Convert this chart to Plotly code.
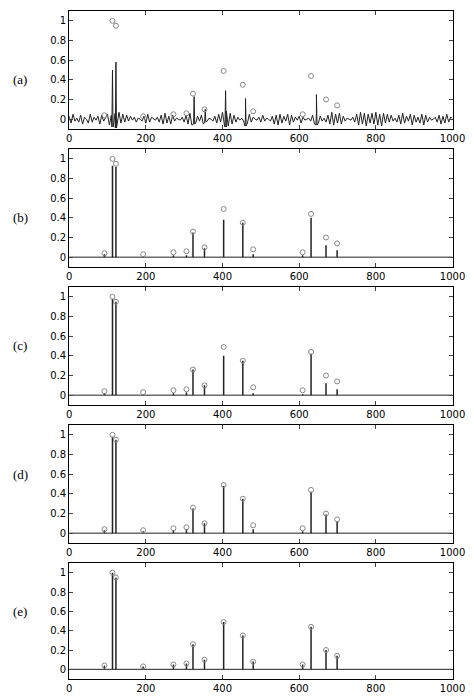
import plotly.graph_objects as go

# true spikes (circles)
true_pos = [92,113,122,193,272,306,323,353,403,453,480,609,631,670,699]
true_amp = [0.04,1.0,0.95,0.03,0.05,0.06,0.26,0.10,0.49,0.35,0.08,0.05,0.44,0.20,0.14]

# panel (a): noisy signal, sampled every 5 units
noise_a = [0.03,-0.04,0.05,-0.02,0.01,-0.03,0.04,-0.05,0.02,0.00,-0.04,0.05,-0.03,0.02,-0.01,0.03,-0.05,0.04,-0.02,0.01,
           0.05,-0.06,0.04,-0.07,0.06,-0.05,0.07,-0.04,0.05,-0.03,0.04,-0.02,0.03,-0.01,0.02,-0.03,0.01,0.00,-0.02,0.03,
           -0.04,0.05,-0.03,0.02,0.00,-0.01,0.02,-0.03,0.04,-0.05,0.06,-0.04,0.03,-0.05,0.04,-0.02,0.01,0.00,-0.01,0.02,
           -0.03,0.04,-0.05,0.06,-0.06,0.05,-0.04,0.03,-0.02,0.04,-0.05,0.03,-0.02,0.01,0.00,-0.02,0.03,-0.04,0.05,-0.03,
           0.07,-0.06,0.08,-0.07,0.06,-0.05,0.04,-0.03,0.02,-0.01,0.01,-0.02,0.03,-0.04,0.05,-0.03,0.02,0.00,-0.01,0.02,
           -0.03,0.04,-0.02,0.01,0.00,-0.02,0.03,-0.05,0.04,-0.06,0.05,-0.04,0.03,-0.02,0.05,-0.06,0.04,-0.03,0.02,-0.01,
           0.03,-0.04,0.02,-0.01,0.00,0.01,-0.02,0.04,-0.05,0.06,-0.04,0.03,-0.02,0.01,-0.03,0.04,-0.05,0.07,-0.06,0.05,
           -0.04,0.06,-0.05,0.03,-0.02,0.01,0.00,-0.01,0.02,-0.03,0.05,-0.06,0.07,-0.05,0.06,-0.07,0.05,-0.04,0.06,-0.05,
           0.07,-0.06,0.05,-0.07,0.06,-0.04,0.05,-0.03,0.04,-0.02,0.01,-0.03,0.04,-0.05,0.06,-0.04,0.03,-0.02,0.05,-0.06,
           0.04,-0.03,0.02,-0.04,0.05,-0.06,0.04,-0.03,0.02,-0.01,0.00,0.02,-0.03,0.04,-0.05,0.03,-0.04,0.05,-0.03,0.02,
           0.01]
x_a = [i * 5 for i in range(len(noise_a))]
peak_pos_a = [113,122,326,355,408,460,645]
peak_amp_a = [0.50,0.58,0.23,0.10,0.29,0.21,0.25]
peak_neg_a = [-0.08,-0.09,-0.05,-0.03,-0.08,-0.07,-0.06]

# panels (b)-(e) recovered spikes
amp_b = [0.03,0.93,0.92,0.01,0.02,0.02,0.25,0.09,0.38,0.35,0.03,0.02,0.40,0.12,0.07]
amp_c = [0.02,0.98,0.95,0.01,0.02,0.03,0.26,0.10,0.40,0.35,0.02,0.01,0.42,0.12,0.06]
amp_d = [0.03,0.98,0.95,0.02,0.03,0.04,0.25,0.10,0.48,0.35,0.04,0.02,0.42,0.19,0.12]
amp_e = true_amp
labels = ["(a)","(b)","(c)","(d)","(e)"]

H = 697
tops = [3,141,279,417,555]
bots = [121,259,397,535,671]

fig = go.Figure()
line_c = "#222"
circ = dict(symbol="circle-open", size=5, color="#888", line=dict(width=1, color="#888"))

for k in range(5):
    xa = "x" if k == 0 else f"x{k+1}"
    ya = "y" if k == 0 else f"y{k+1}"
    if k == 0:
        pts = list(zip(x_a, noise_a))
        for p, a, n in zip(peak_pos_a, peak_amp_a, peak_neg_a):
            pts += [(p - 1.5, n), (p, a), (p + 1.5, n)]
        pts.sort()
        fig.add_trace(go.Scatter(x=[p[0] for p in pts], y=[p[1] for p in pts], mode="lines",
                                 line=dict(color=line_c, width=1), xaxis=xa, yaxis=ya, showlegend=False))
    else:
        amps = [amp_b, amp_c, amp_d, amp_e][k - 1]
        fig.add_trace(go.Scatter(x=[0, 1000], y=[0, 0], mode="lines", line=dict(color=line_c, width=1),
                                 xaxis=xa, yaxis=ya, showlegend=False))
        sx, sy = [], []
        for p, a in zip(true_pos, amps):
            sx += [p, p, None]; sy += [0, a, None]
        fig.add_trace(go.Scatter(x=sx, y=sy, mode="lines", line=dict(color=line_c, width=1.5),
                                 xaxis=xa, yaxis=ya, showlegend=False))
    fig.add_trace(go.Scatter(x=true_pos, y=true_amp, mode="markers", marker=circ,
                             xaxis=xa, yaxis=ya, showlegend=False))
    dom = [1 - bots[k] / H, 1 - tops[k] / H]
    axx = dict(domain=[0.127, 0.964], range=[0, 1000], tickvals=[0,200,400,600,800,1000], anchor=ya,
               showgrid=False, zeroline=False, showline=True, mirror="ticks", linecolor="#000",
               ticks="inside", ticklen=4, tickfont=dict(size=10, family="DejaVu Sans", color="#000"))
    axy = dict(domain=dom, range=[-0.1, 1.1], tickvals=[0,0.2,0.4,0.6,0.8,1],
               ticktext=["0","0.2","0.4","0.6","0.8","1"], anchor=xa,
               showgrid=False, zeroline=False, showline=True, mirror="ticks", linecolor="#000",
               ticks="inside", ticklen=4, tickfont=dict(size=10, family="DejaVu Sans", color="#000"))
    fig.update_layout(**{("xaxis" if k == 0 else f"xaxis{k+1}"): axx,
                         ("yaxis" if k == 0 else f"yaxis{k+1}"): axy})
    fig.add_annotation(text=labels[k], x=0.0, xref="paper", xanchor="left",
                       y=(dom[0] + dom[1]) / 2, yref="paper", showarrow=False,
                       font=dict(size=13, family="Liberation Serif", color="#000"))

fig.update_layout(width=474, height=697, margin=dict(l=0, r=0, t=0, b=0),
                  plot_bgcolor="white", paper_bgcolor="white")
fig.write_html("out.html")
